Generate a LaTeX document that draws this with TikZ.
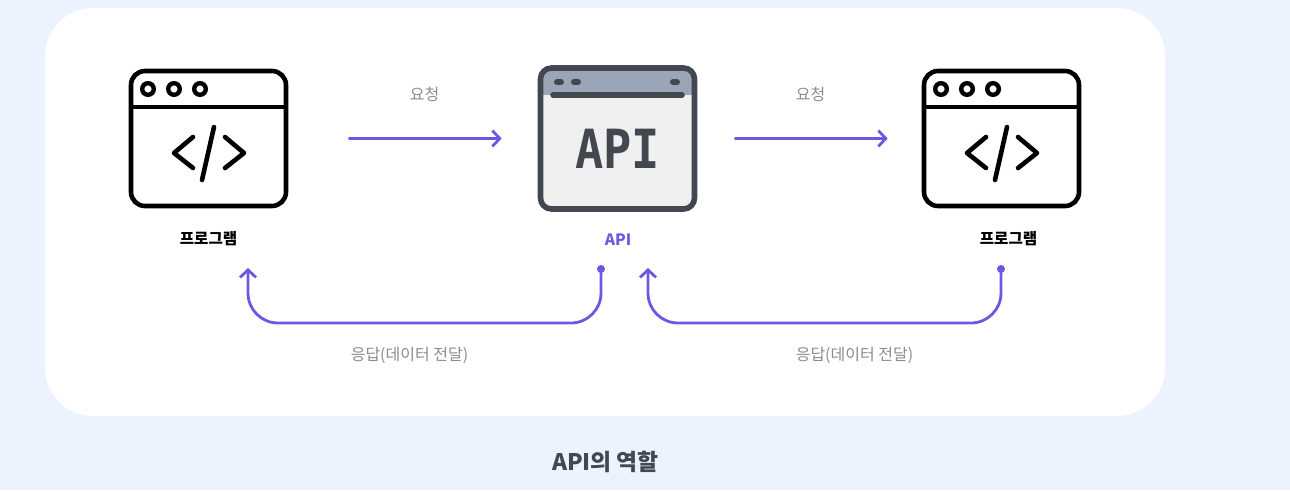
\documentclass[tikz,border=0pt]{standalone}
\usepackage{fontspec}
\usetikzlibrary{arrows.meta}
\newfontfamily\krfont{Noto Sans CJK KR}
\newfontfamily\apifont{DejaVu Sans Mono}
\definecolor{pagebg}{HTML}{ECF2FE}
\definecolor{flow}{HTML}{6F58E0}
\definecolor{slate}{HTML}{434750}
\definecolor{headbar}{HTML}{9AA5B8}
\definecolor{panelgrey}{HTML}{F0F0F0}
\definecolor{soft}{HTML}{8C8C8C}
\tikzset{
  x=1pt,y=-1pt,
  winbox/.style={draw=black,fill=white,line width=4.6pt,rounded corners=14pt,minimum width=155pt,minimum height=135pt,inner sep=0pt},
  apibox/.style={draw=slate,line width=5.6pt,rounded corners=11pt,minimum width=154pt,minimum height=141pt,inner sep=0pt},
  inkline/.style={line width=4.6pt,line cap=round,line join=round},
  flowline/.style={draw=flow,line width=2.8pt,line cap=round,-{Straight Barb[length=7.5pt,width=16pt,line width=2.8pt]}},
  softlabel/.style={font=\krfont\fontsize{16pt}{19pt}\selectfont,text=soft,inner sep=0pt},
  namelabel/.style={font=\krfont\bfseries\fontsize{15.6pt}{18pt}\selectfont,inner sep=0pt},
}
\newcommand{\windowicon}[2]{%
  \node[winbox] (#2) at (#1,138.5) {};
  \begin{scope}[shift={(#1-208.5,0)}]
    \draw[line width=4.6pt] (131,107) -- (286,107);
    \foreach \cx in {148,174,200} \draw[line width=4.4pt] (\cx,89) circle[radius=5.8pt];
    \draw[inkline] (193,137) -- (174,153) -- (193,168);
    \draw[inkline] (214,127) -- (202,180);
    \draw[inkline] (225,137) -- (244,153) -- (225,168);
  \end{scope}}
\begin{document}
\begin{tikzpicture}
\useasboundingbox (0,0) rectangle (1290,490);
\fill[pagebg] (0,0) rectangle (1290,490);
\fill[white,rounded corners=48pt] (45,8) rectangle (1165,416);

\windowicon{208.5}{progA}
\windowicon{1001.5}{progB}

% API window
\begin{scope}
  \clip[rounded corners=11pt] (540.5,68) rectangle (694.5,209);
  \fill[panelgrey] (540.5,68) rectangle (694.5,209);
  \fill[headbar] (540.5,68) rectangle (694.5,95);
\end{scope}
\node[apibox] (api) at (617.5,138.5) {};
\draw[slate,line width=5.6pt,line cap=round] (553,95) -- (682,95);
\draw[slate,line width=6pt,line cap=round] (557,82) -- (561,82);
\draw[slate,line width=6pt,line cap=round] (574,82) -- (578,82);
\draw[slate,line width=6pt,line cap=round] (673,82) -- (677,82);
\node[font=\apifont\bfseries\fontsize{54pt}{54pt}\selectfont,text=slate,inner sep=0pt,xscale=0.87,transform shape] (apiword) at (617.5,149) {API};

% labels
\node[namelabel] (labA) at (208.5,239) {프로그램};
\node[namelabel,text=flow] (labApi) at (618,240) {API};
\node[namelabel] (labB) at (1008.5,239) {프로그램};
\node[softlabel] (reqA) at (424.5,94.5) {요청};
\node[softlabel] (reqB) at (810.5,94.5) {요청};
\node[softlabel] (respA) at (409.5,355.5) {응답(데이터 전달)};
\node[softlabel] (respB) at (854.5,355.5) {응답(데이터 전달)};
\node[font=\krfont\bfseries\fontsize{22.8pt}{26pt}\selectfont,text=slate,inner sep=0pt] (title) at (605.5,462) {API의 역할};

% request arrows
\draw[flowline,shorten <=61pt,shorten >=36pt] (progA.east) -- (api.west);
\draw[flowline,shorten <=38pt,shorten >=34pt] (api.east) -- (progB.west);

% response arrows
\coordinate (startA) at (601,269);
\coordinate (endA) at (248,268);
\coordinate (startB) at (1001,269);
\coordinate (endB) at (648,268);
\fill[flow] (startA) circle[radius=4pt];
\fill[flow] (startB) circle[radius=4pt];
\draw[flowline,rounded corners=30pt] (startA) -- (startA |- 0,323) -- (endA |- 0,323) -- (endA);
\draw[flowline,rounded corners=30pt] (startB) -- (startB |- 0,323) -- (endB |- 0,323) -- (endB);
\end{tikzpicture}
\end{document}
